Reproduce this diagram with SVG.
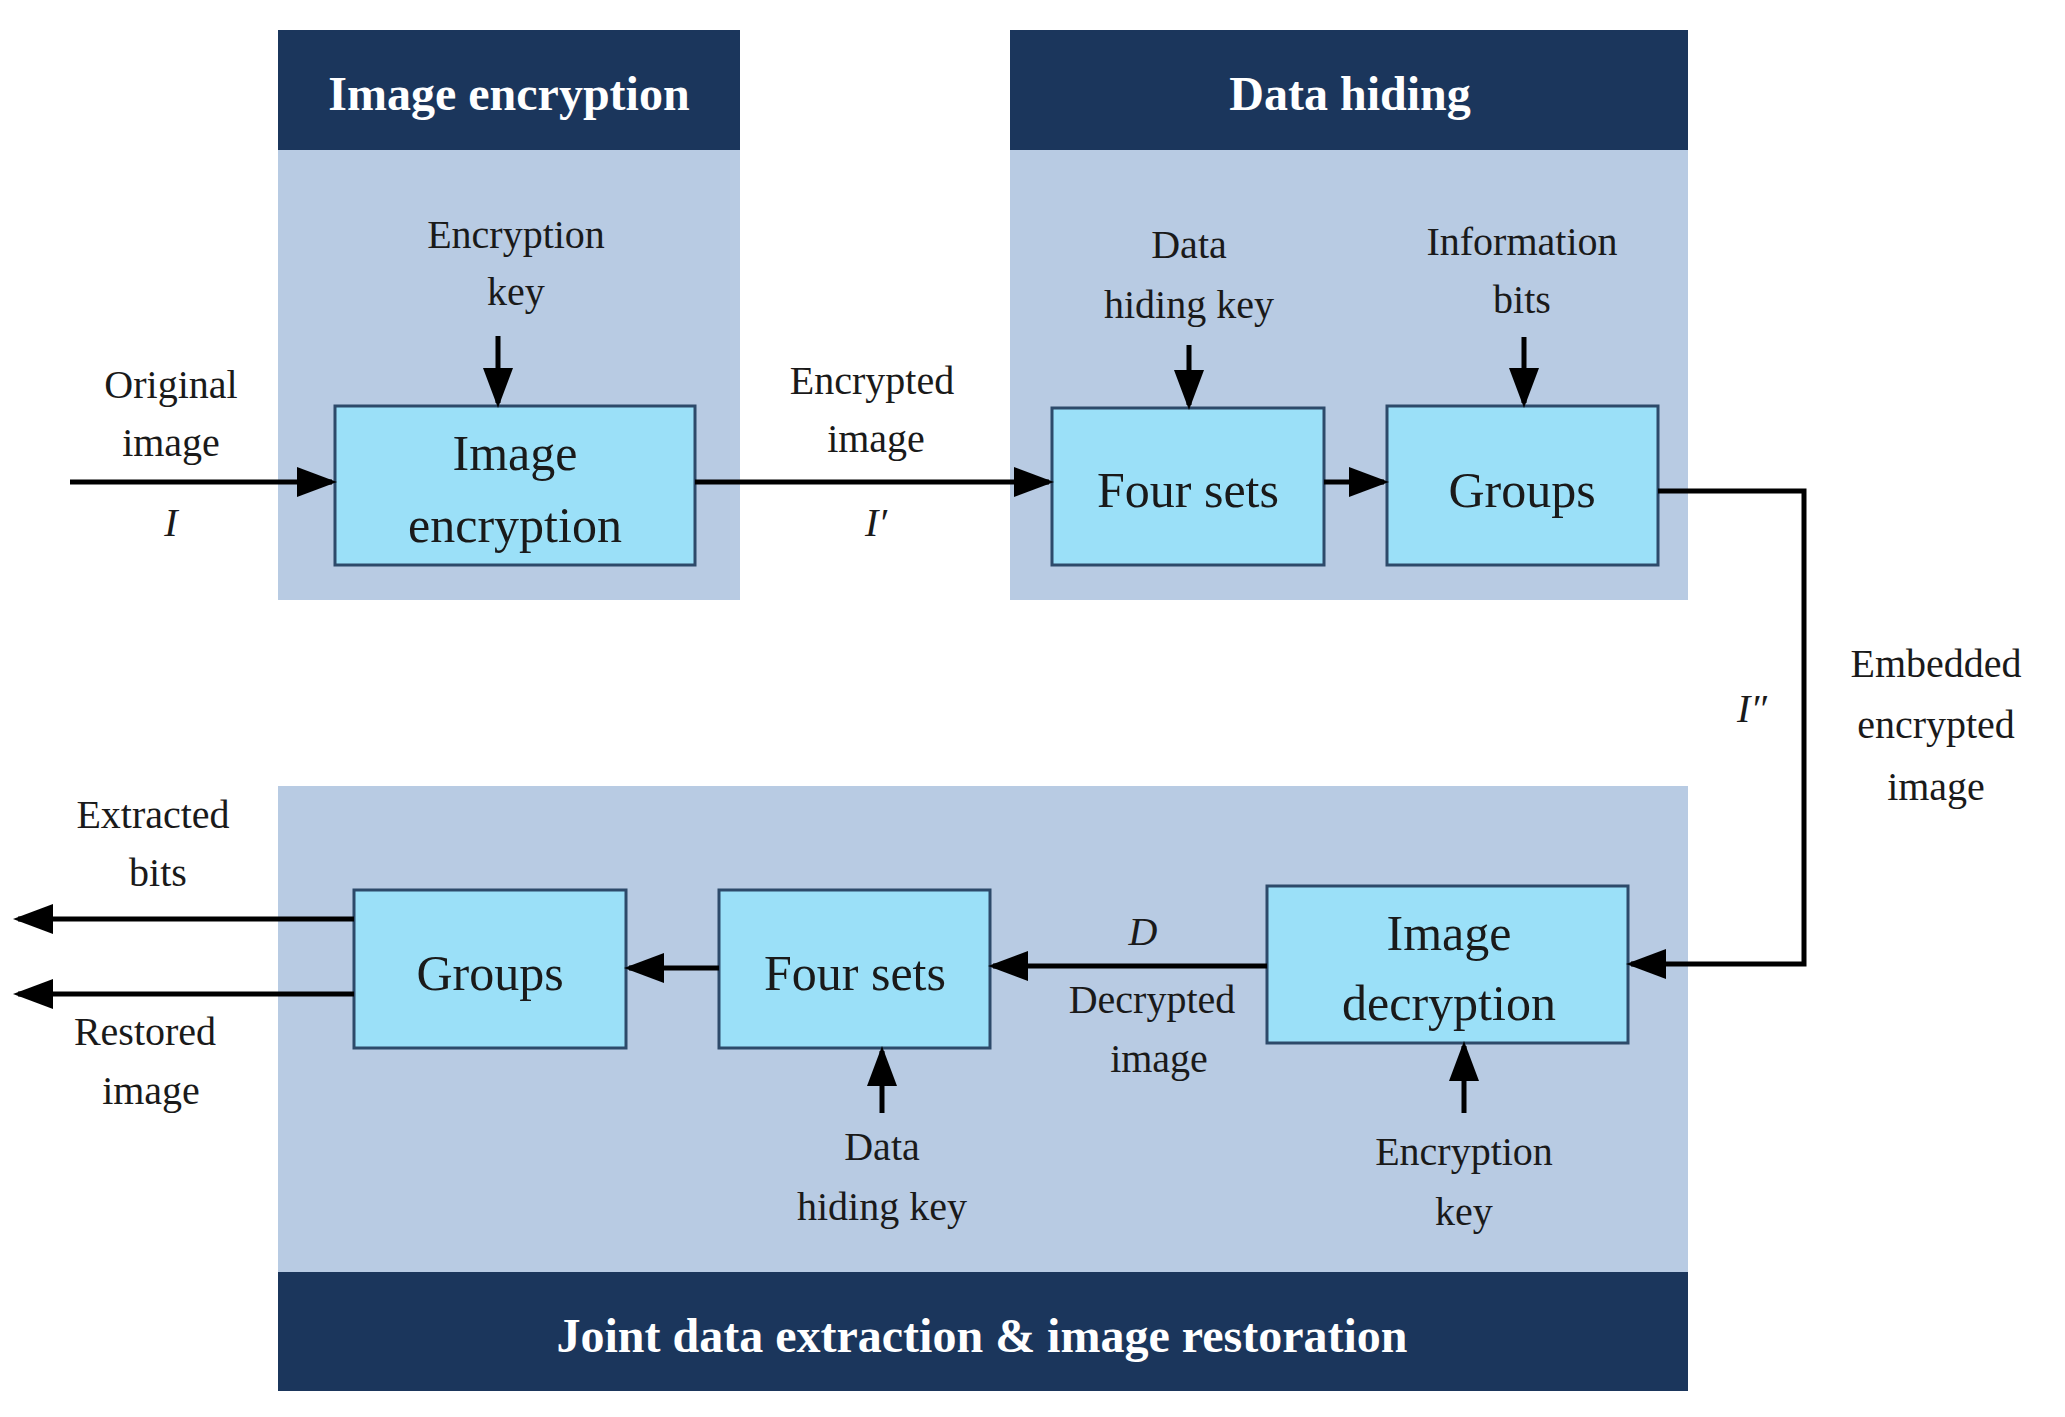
<svg xmlns="http://www.w3.org/2000/svg" width="2065" height="1417" viewBox="0 0 2065 1417">
<style>
text{font-family:"Liberation Serif","Times New Roman",serif;fill:#1a1a1a;text-anchor:middle}
.lbl{font-size:40px}
.bx{font-size:50px}
.hd{font-size:48px;font-weight:bold;fill:#fff}
.it{font-style:italic}
.panel{fill:#b8cbe3}
.head{fill:#1b365c}
.box{fill:#9be0f8;stroke:#2d4a6a;stroke-width:3}
.ln{stroke:#000;stroke-width:5;fill:none}
</style>
<defs>
<marker id="ah" markerWidth="8" markerHeight="6" refX="7" refY="3" orient="auto" markerUnits="strokeWidth"><path d="M0,0 L8,3 L0,6 z" fill="#000"/></marker>
</defs>
<rect width="2065" height="1417" fill="#fff"/>
<g id="panel-enc">
<rect class="panel" x="278" y="30" width="462" height="570"/>
<rect class="head" x="278" y="30" width="462" height="120"/>
<text class="hd" x="509" y="110">Image encryption</text>
</g>
<g id="panel-hide">
<rect class="panel" x="1010" y="30" width="678" height="570"/>
<rect class="head" x="1010" y="30" width="678" height="120"/>
<text class="hd" x="1350" y="110">Data hiding</text>
</g>
<g id="panel-joint">
<rect class="panel" x="278" y="786" width="1410" height="605"/>
<rect class="head" x="278" y="1272" width="1410" height="119"/>
<text class="hd" x="982" y="1352">Joint data extraction &amp; image restoration</text>
</g>
<g id="n-imgenc"><rect class="box" x="335" y="406" width="360" height="159"/><text class="bx" x="515" y="470">Image</text><text class="bx" x="515" y="542">encryption</text></g>
<g id="n-foursets1"><rect class="box" x="1052" y="408" width="272" height="157"/><text class="bx" x="1188" y="507">Four sets</text></g>
<g id="n-groups1"><rect class="box" x="1387" y="406" width="271" height="159"/><text class="bx" x="1522" y="507">Groups</text></g>
<g id="n-groups2"><rect class="box" x="354" y="890" width="272" height="158"/><text class="bx" x="490" y="990">Groups</text></g>
<g id="n-foursets2"><rect class="box" x="719" y="890" width="271" height="158"/><text class="bx" x="855" y="990">Four sets</text></g>
<g id="n-imgdec"><rect class="box" x="1267" y="886" width="361" height="157"/><text class="bx" x="1449" y="950">Image</text><text class="bx" x="1449" y="1020">decryption</text></g>
<g id="connectors">
<line class="ln" x1="70" y1="482" x2="332" y2="482" marker-end="url(#ah)"/>
<line class="ln" x1="695" y1="482" x2="1049" y2="482" marker-end="url(#ah)"/>
<line class="ln" x1="1324" y1="482" x2="1384" y2="482" marker-end="url(#ah)"/>
<polyline class="ln" points="1658,491 1804,491 1804,964 1631,964" marker-end="url(#ah)"/>
<line class="ln" x1="1267" y1="966" x2="993" y2="966" marker-end="url(#ah)"/>
<line class="ln" x1="719" y1="968" x2="629" y2="968" marker-end="url(#ah)"/>
<line class="ln" x1="354" y1="919" x2="18" y2="919" marker-end="url(#ah)"/>
<line class="ln" x1="354" y1="994" x2="18" y2="994" marker-end="url(#ah)"/>
<line class="ln" x1="498" y1="336" x2="498" y2="403" marker-end="url(#ah)"/>
<line class="ln" x1="1189" y1="345" x2="1189" y2="405" marker-end="url(#ah)"/>
<line class="ln" x1="1524" y1="337" x2="1524" y2="403" marker-end="url(#ah)"/>
<line class="ln" x1="882" y1="1113" x2="882" y2="1051" marker-end="url(#ah)"/>
<line class="ln" x1="1464" y1="1113" x2="1464" y2="1046" marker-end="url(#ah)"/>
</g>
<g id="labels">
<text class="lbl" x="516" y="248">Encryption</text><text class="lbl" x="516" y="305">key</text>
<text class="lbl" x="171" y="398">Original</text><text class="lbl" x="171" y="456">image</text><text class="lbl it" x="171" y="536">I</text>
<text class="lbl" x="872" y="394">Encrypted</text><text class="lbl" x="876" y="452">image</text><text class="lbl it" x="876" y="536">I′</text>
<text class="lbl" x="1189" y="258">Data</text><text class="lbl" x="1189" y="318">hiding key</text>
<text class="lbl" x="1522" y="255">Information</text><text class="lbl" x="1522" y="313">bits</text>
<text class="lbl" x="1936" y="677">Embedded</text><text class="lbl" x="1936" y="738">encrypted</text><text class="lbl" x="1936" y="800">image</text>
<text class="lbl it" x="1752" y="722">I″</text>
<text class="lbl" x="153" y="828">Extracted</text><text class="lbl" x="158" y="886">bits</text>
<text class="lbl" x="145" y="1045">Restored</text><text class="lbl" x="151" y="1104">image</text>
<text class="lbl it" x="1143" y="945">D</text>
<text class="lbl" x="1152" y="1013">Decrypted</text><text class="lbl" x="1159" y="1072">image</text>
<text class="lbl" x="882" y="1160">Data</text><text class="lbl" x="882" y="1220">hiding key</text>
<text class="lbl" x="1464" y="1165">Encryption</text><text class="lbl" x="1464" y="1225">key</text>
</g>
</svg>
